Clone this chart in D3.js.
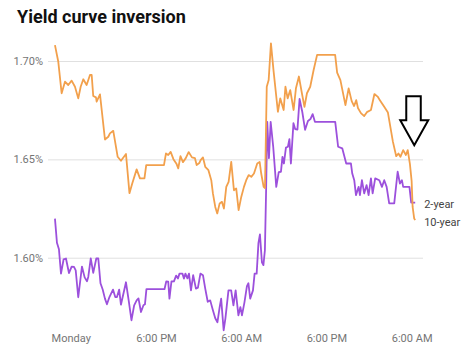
<!DOCTYPE html>
<html>
<head>
<meta charset="utf-8">
<script src="https://cdn.jsdelivr.net/npm/d3@7"></script>
<style>
  body { margin: 0; background: #fff; }
  svg { display: block; font-family: Roboto, "Noto Sans", sans-serif; }
</style>
</head>
<body>
<div id="chart"></div>
<script>
// time is hours since Monday 00:00, values are yields in %
const tenYearTime = [3.78, 4.25, 4.72, 5.19, 5.65, 6.13, 6.60, 7.06, 7.40, 7.77, 8.24, 8.71, 8.95, 9.17, 9.55, 9.65, 10.12,
  10.82, 11.29, 11.52, 11.99, 12.61, 13.07, 13.78, 14.27, 14.66, 15.28, 15.75, 16.38, 16.63, 19.13, 19.41, 19.73, 20.07,
  20.46, 20.91, 21.14, 21.45, 21.80, 22.18, 22.60, 23.07, 23.49, 23.73, 24.10, 24.29, 24.62, 24.94, 25.39, 25.79, 26.02,
  26.35, 26.63, 26.97, 27.29, 27.57, 27.90, 28.23, 28.60, 28.98, 29.30, 29.64, 30.01, 30.39, 30.71, 31.05, 31.42, 31.80,
  32.26, 32.60, 32.82, 33.16, 33.35, 33.60, 33.87, 34.19, 34.57, 35.17, 35.50, 35.98, 36.23, 36.54, 36.91, 37.38, 37.71,
  38.13, 38.55, 38.91, 39.26, 39.72, 40.20, 40.69, 43.23, 43.51, 43.97, 44.68, 45.13, 45.56, 45.90, 46.20, 46.44, 46.86,
  47.32, 47.70, 48.27, 48.76, 49.21, 49.53, 50.14, 50.66, 51.36, 51.83, 52.14, 52.42, 52.81, 53.19, 53.45, 53.76, 54.00,
  54.14, 54.36, 54.50];
const tenYearValue = [1.7081, 1.6996, 1.6836, 1.6895, 1.6878, 1.6900, 1.6869, 1.6810, 1.6869, 1.6907, 1.6878, 1.6929,
  1.6929, 1.6822, 1.6815, 1.6793, 1.6830, 1.6601, 1.6615, 1.6632, 1.6645, 1.6513, 1.6493, 1.6527, 1.6328, 1.6377, 1.6449,
  1.6403, 1.6403, 1.6471, 1.6471, 1.6530, 1.6522, 1.6538, 1.6501, 1.6476, 1.6454, 1.6516, 1.6486, 1.6505, 1.6537, 1.6510,
  1.6506, 1.6471, 1.6481, 1.6496, 1.6510, 1.6462, 1.6445, 1.6394, 1.6327, 1.6258, 1.6225, 1.6276, 1.6284, 1.6250, 1.6360,
  1.6386, 1.6487, 1.6343, 1.6352, 1.6242, 1.6309, 1.6360, 1.6394, 1.6420, 1.6411, 1.6428, 1.6479, 1.6487, 1.6428, 1.6360,
  1.6354, 1.6869, 1.6903, 1.7090, 1.6946, 1.6742, 1.6810, 1.6751, 1.6869, 1.6810, 1.6852, 1.6751, 1.6861, 1.6921, 1.6836,
  1.6767, 1.6836, 1.6869, 1.6954, 1.7031, 1.7031, 1.6941, 1.6903, 1.6776, 1.6861, 1.6796, 1.6771, 1.6801, 1.6761, 1.6735,
  1.6720, 1.6740, 1.6751, 1.6832, 1.6819, 1.6801, 1.6767, 1.6738, 1.6590, 1.6516, 1.6530, 1.6513, 1.6547, 1.6522, 1.6547,
  1.6476, 1.6389, 1.6258, 1.6199, 1.6191];

const twoYearTime = [3.78, 4.06, 4.34, 4.63, 5.00, 5.33, 5.75, 6.13, 6.46, 6.70, 7.06, 7.58, 7.96, 8.29, 8.47, 8.82, 9.17,
  9.60, 9.88, 10.19, 10.50, 10.82, 11.10, 11.45, 11.95, 12.27, 12.51, 12.82, 13.07, 13.78, 14.20, 14.55, 14.93, 15.28,
  15.54, 15.89, 16.24, 16.45, 16.66, 19.20, 19.45, 19.73, 19.90, 20.18, 20.53, 20.84, 21.10, 21.31, 21.73, 21.94, 22.15,
  22.43, 22.65, 22.93, 23.24, 23.63, 23.91, 24.26, 24.62, 24.94, 25.29, 25.64, 26.02, 26.35, 26.66, 26.97, 27.18, 27.53,
  27.78, 28.21, 28.59, 28.91, 29.22, 29.61, 29.89, 30.11, 30.46, 30.81, 31.02, 31.27, 31.66, 31.89, 32.18, 32.43, 32.64,
  32.92, 33.13, 33.34, 33.51, 33.67, 33.91, 34.15, 34.51, 34.94, 35.29, 35.60, 35.81, 36.02, 36.30, 36.58, 36.79, 37.00,
  37.36, 37.60, 37.92, 38.22, 38.60, 39.00, 39.40, 39.75, 40.06, 40.38, 43.24, 43.65, 44.23, 44.79, 45.45, 45.64, 45.92,
  46.16, 46.54, 46.72, 47.00, 47.32, 47.66, 47.94, 48.27, 48.51, 48.87, 49.44, 49.82, 50.14, 50.48, 50.84, 51.55, 52.03,
  52.35, 52.63, 52.81, 53.69, 53.94, 54.50];
const twoYearValue = [1.6199, 1.6076, 1.6043, 1.5919, 1.5992, 1.5996, 1.5922, 1.5955, 1.5953, 1.5936, 1.5799, 1.5955,
  1.5900, 1.5880, 1.5902, 1.5996, 1.5923, 1.5996, 1.5996, 1.5870, 1.5838, 1.5792, 1.5763, 1.5800, 1.5838, 1.5800, 1.5800,
  1.5838, 1.5761, 1.5875, 1.5773, 1.5682, 1.5758, 1.5783, 1.5793, 1.5724, 1.5758, 1.5763, 1.5840, 1.5840, 1.5879, 1.5878,
  1.5792, 1.5879, 1.5880, 1.5909, 1.5894, 1.5919, 1.5919, 1.5894, 1.5919, 1.5895, 1.5919, 1.5834, 1.5911, 1.5843, 1.5848,
  1.5919, 1.5911, 1.5843, 1.5776, 1.5783, 1.5733, 1.5692, 1.5672, 1.5749, 1.5792, 1.5631, 1.5692, 1.5834, 1.5834, 1.5758,
  1.5834, 1.5707, 1.5749, 1.5707, 1.5773, 1.5855, 1.5870, 1.5792, 1.5834, 1.5919, 1.5919, 1.6074, 1.6119, 1.5977, 1.5962,
  1.6038, 1.6343, 1.6691, 1.6506, 1.6691, 1.6564, 1.6360, 1.6435, 1.6437, 1.6513, 1.6479, 1.6560, 1.6564, 1.6603, 1.6479,
  1.6684, 1.6654, 1.6651, 1.6807, 1.6742, 1.6650, 1.6695, 1.6705, 1.6730, 1.6691, 1.6691, 1.6564, 1.6556, 1.6479, 1.6479,
  1.6428, 1.6394, 1.6318, 1.6360, 1.6318, 1.6394, 1.6327, 1.6369, 1.6318, 1.6403, 1.6327, 1.6403, 1.6394, 1.6360, 1.6394,
  1.6360, 1.6276, 1.6276, 1.6437, 1.6377, 1.6394, 1.6360, 1.6360, 1.6280, 1.6280];

const xTickHours = [6, 18, 30, 42, 54];
const xTickLabels = ["Monday", "6:00 PM", "6:00 AM", "6:00 PM", "6:00 AM"];
const yTicks = [1.60, 1.65, 1.70];

const width = 474, height = 363;

const svg = d3.select("#chart").append("svg")
    .attr("width", width)
    .attr("height", height);

const x = d3.scaleLinear().domain([2.8, 55.6]).range([48, 423]);
const y = d3.scaleLinear().domain([1.60, 1.70]).range([257.7, 61]);

// title
svg.append("text")
    .attr("x", 17)
    .attr("y", 23)
    .attr("font-size", 18)
    .attr("font-weight", "bold")
    .attr("fill", "#111")
    .text("Yield curve inversion");

// y gridlines + labels
const yAxis = svg.append("g")
    .attr("transform", `translate(${x.range()[0]},0)`)
    .call(d3.axisLeft(y)
        .tickValues(yTicks)
        .tickSize(-(x.range()[1] - x.range()[0]))
        .tickPadding(5)
        .tickFormat(d => d3.format(".2f")(d) + "%"));
yAxis.select(".domain").remove();
yAxis.selectAll(".tick line").attr("stroke", "#e0e0e0");
yAxis.selectAll(".tick text")
    .attr("fill", "#757575")
    .attr("font-size", 11)
    .attr("font-family", "Roboto, sans-serif");

// x labels
const xAxis = svg.append("g")
    .attr("transform", "translate(0,328)")
    .call(d3.axisBottom(x)
        .tickValues(xTickHours)
        .tickSize(0)
        .tickPadding(6)
        .tickFormat((d, i) => xTickLabels[i]));
xAxis.select(".domain").remove();
xAxis.selectAll(".tick text")
    .attr("fill", "#757575")
    .attr("font-size", 11)
    .attr("font-family", "Roboto, sans-serif");

const series = [
    {name: "2-year", time: twoYearTime, value: twoYearValue, color: "#9c50dc"},
    {name: "10-year", time: tenYearTime, value: tenYearValue, color: "#f2a04c"}
];

const line = d3.line()
    .x(d => x(d[0]))
    .y(d => y(d[1]));

series.forEach(s => {
    const pts = s.time.map((t, i) => [t, s.value[i]]);
    svg.append("path")
        .datum(pts)
        .attr("fill", "none")
        .attr("stroke", s.color)
        .attr("stroke-width", 1.8)
        .attr("stroke-linejoin", "round")
        .attr("d", line);

    const last = pts[pts.length - 1];
    svg.append("text")
        .attr("x", x(last[0]) + 9)
        .attr("y", y(last[1]) + 2)
        .attr("dy", "0.35em")
        .attr("font-size", 11)
        .attr("fill", "#444")
        .text(s.name);
});

// annotation arrow pointing down at the crossing
const arrowT = 54.37, arrowV = 1.6572;
const ax = x(arrowT), ay = y(arrowV);
svg.append("path")
    .attr("d", `M${ax - 8},${ay - 49} L${ax + 6.5},${ay - 49} L${ax + 6.5},${ay - 25}
        L${ax + 14},${ay - 25} L${ax},${ay} L${ax - 14},${ay - 25} L${ax - 8},${ay - 25} Z`)
    .attr("fill", "#fff")
    .attr("stroke", "#000")
    .attr("stroke-width", 2)
    .attr("stroke-linejoin", "miter");
</script>
</body>
</html>
